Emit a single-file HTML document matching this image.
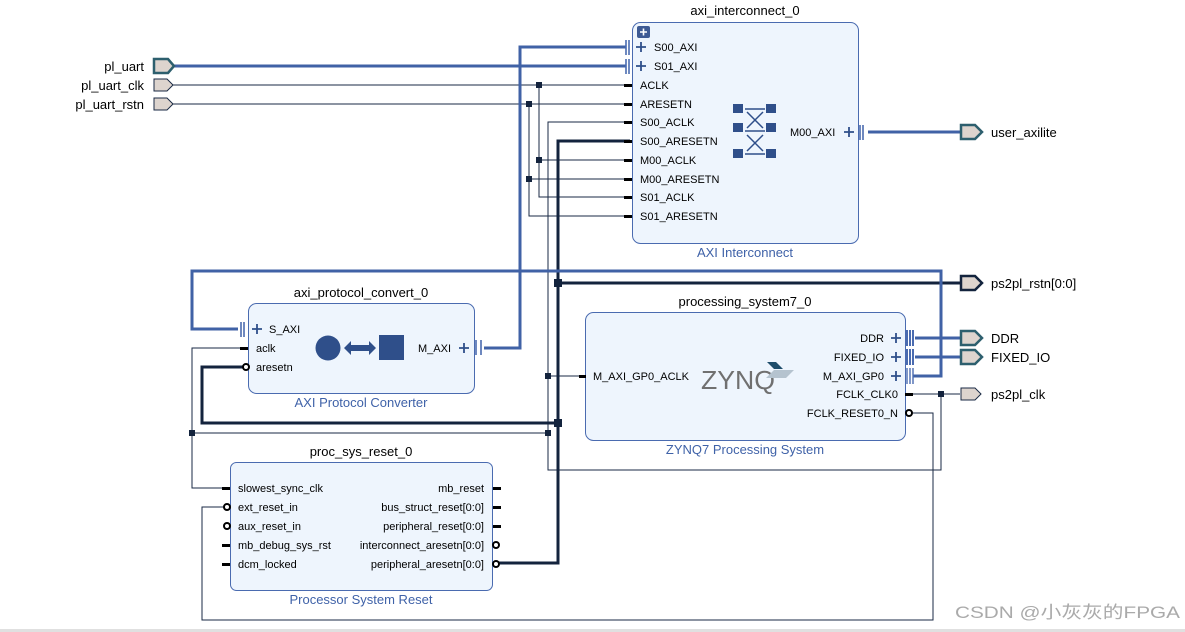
<!DOCTYPE html>
<html><head><meta charset="utf-8"><style>
html,body{margin:0;padding:0;background:#fff;}
svg{display:block;font-family:"Liberation Sans","Noto Sans CJK SC",sans-serif;}
.t{font-size:11px;fill:#000;}
.ti{font-size:13px;fill:#000;}
.lb{font-size:13px;fill:#3f62a8;}
.pl{font-size:13px;fill:#000;}
</style></head><body>
<svg width="1185" height="632" viewBox="0 0 1185 632" xmlns="http://www.w3.org/2000/svg">
<rect width="1185" height="632" fill="#fff"/>
<rect x="0" y="629" width="1185" height="3" fill="#e0e0e0"/>

<g fill="none" stroke="#1a2a44" stroke-width="1">
<polyline points="173,85 630,85"/>
<polyline points="173,104 630,104"/>
<polyline points="539,85 539,197 630,197"/>
<polyline points="539,160 630,160"/>
<polyline points="529,104 529,216 630,216"/>
<polyline points="529,179 630,179"/>
<polyline points="630,122 548,122 548,470 941,470 941,394"/>
<polyline points="548,376 585,376"/>
<polyline points="905,394 960,394"/>
<polyline points="192,433 548,433"/>
<polyline points="240,348 192,348 192,488 231,488"/>
<polyline points="910,413 933,413 933,620 202,620 202,507 226,507"/>
</g>
<g fill="none" stroke="#13233d" stroke-width="3">
<polyline points="630,141 558,141 558,563 497,563"/>
<polyline points="558,283 962,283"/>
<polyline points="558,423 202,423 202,367 244,367"/>
</g>
<g fill="none" stroke="#4062a6" stroke-width="3">
<polyline points="173,66 626,66"/>
<polyline points="626,47 520,47 520,348 484,348"/>
<polyline points="868,132 962,132"/>
<polyline points="913,376 941,376 941,271 192,271 192,329 238,329"/>
<polyline points="915,338 962,338"/>
<polyline points="915,357 962,357"/>
</g>
<g fill="#13233d">
<rect x="536" y="82" width="6" height="6"/><rect x="526" y="101" width="6" height="6"/>
<rect x="536" y="157" width="6" height="6"/><rect x="526" y="176" width="6" height="6"/>
<rect x="545" y="373" width="6" height="6"/><rect x="545" y="430" width="6" height="6"/>
<rect x="189" y="430" width="6" height="6"/><rect x="938" y="391" width="6" height="6"/>
<rect x="554" y="279" width="8" height="8"/><rect x="554" y="419" width="8" height="8"/>
</g>

<polygon points="154,59 168,59 174,66 168,73 154,73" fill="#ddd4ce" stroke="#2d5f6e" stroke-width="2.5"/>
<polygon points="154,79 167,79 173,85 167,91 154,91" fill="#ddd4ce" stroke="#1a2a44" stroke-width="1"/>
<polygon points="154,98 167,98 173,104 167,110 154,110" fill="#ddd4ce" stroke="#1a2a44" stroke-width="1"/>
<text class="pl" x="144" y="71" text-anchor="end">pl_uart</text>
<text class="pl" x="144" y="90" text-anchor="end">pl_uart_clk</text>
<text class="pl" x="144" y="109" text-anchor="end">pl_uart_rstn</text>
<polygon points="961,125 975,125 982,132 975,139 961,139" fill="#ddd4ce" stroke="#2d5f6e" stroke-width="2.5"/>
<polygon points="961,276 975,276 982,283 975,290 961,290" fill="#ddd4ce" stroke="#13233d" stroke-width="2.5"/>
<polygon points="961,331 975,331 982,338 975,345 961,345" fill="#ddd4ce" stroke="#2d5f6e" stroke-width="2.5"/>
<polygon points="961,350 975,350 982,357 975,364 961,364" fill="#ddd4ce" stroke="#2d5f6e" stroke-width="2.5"/>
<polygon points="961,388 975,388 981,394 975,400 961,400" fill="#ddd4ce" stroke="#1a2a44" stroke-width="1"/>
<text class="pl" x="991" y="137">user_axilite</text>
<text class="pl" x="991" y="288">ps2pl_rstn[0:0]</text>
<text class="pl" x="991" y="343">DDR</text>
<text class="pl" x="991" y="362">FIXED_IO</text>
<text class="pl" x="991" y="399">ps2pl_clk</text>

<text class="ti" x="745" y="15" text-anchor="middle">axi_interconnect_0</text>
<rect x="632.5" y="22.5" width="226" height="221" rx="8" fill="#eef5fd" stroke="#4a6bb0"/>
<rect x="637" y="26" width="13" height="12" rx="2" fill="#3d5a94"/>
<path d="M643.5,28.5v7M640,32h7" stroke="#fff" stroke-width="1.6"/>
<g fill="#4a6bb0"><rect x="625" y="40" width="2" height="15" opacity=".8"/><rect x="628" y="40" width="2" height="15" opacity=".8"/>
<rect x="625" y="59" width="2" height="15" opacity=".8"/><rect x="628" y="59" width="2" height="15" opacity=".8"/></g>
<path d="M636,47h10M641,42v10M636,66h10M641,61v10" stroke="#2f4f8a" stroke-width="1.8"/>
<text class="t" x="654" y="51">S00_AXI</text><text class="t" x="654" y="70">S01_AXI</text>
<g fill="#000"><rect x="624" y="84" width="8" height="3"/><rect x="624" y="103" width="8" height="3"/><rect x="624" y="121" width="8" height="3"/><rect x="624" y="140" width="8" height="3"/><rect x="624" y="159" width="8" height="3"/><rect x="624" y="178" width="8" height="3"/><rect x="624" y="196" width="8" height="3"/><rect x="624" y="215" width="8" height="3"/></g>
<text class="t" x="640" y="89">ACLK</text><text class="t" x="640" y="108">ARESETN</text>
<text class="t" x="640" y="126">S00_ACLK</text><text class="t" x="640" y="145">S00_ARESETN</text>
<text class="t" x="640" y="164">M00_ACLK</text><text class="t" x="640" y="183">M00_ARESETN</text>
<text class="t" x="640" y="201">S01_ACLK</text><text class="t" x="640" y="220">S01_ARESETN</text>
<g fill="#2f4f8a"><rect x="733" y="104" width="10" height="9"/><rect x="766" y="104" width="10" height="9"/>
<rect x="733" y="123" width="10" height="9"/><rect x="766" y="123" width="10" height="9"/>
<rect x="733" y="149" width="10" height="9"/><rect x="766" y="149" width="10" height="9"/></g>
<path d="M745,109h20M745,131h20M745,154h20M747,112l16,16M763,112l-16,16M747,135l16,16M763,135l-16,16" stroke="#2f4f8a" stroke-width="1.5" fill="none"/>
<text class="t" x="790" y="136">M00_AXI</text>
<path d="M844,132h10M849,127v10" stroke="#2f4f8a" stroke-width="1.8"/>
<g fill="#4a6bb0" opacity=".8"><rect x="859" y="125" width="2" height="15"/><rect x="862" y="125" width="2" height="15"/></g>
<text class="lb" x="745" y="257" text-anchor="middle">AXI Interconnect</text>

<text class="ti" x="361" y="297" text-anchor="middle">axi_protocol_convert_0</text>
<rect x="248.5" y="303.5" width="226" height="90" rx="8" fill="#eef5fd" stroke="#4a6bb0"/>
<g fill="#4a6bb0" opacity=".8"><rect x="240" y="322" width="2" height="15"/><rect x="243" y="322" width="2" height="15"/><rect x="475" y="340" width="2" height="15"/><rect x="480" y="340" width="2" height="15"/></g>
<path d="M252,329h10M257,324v10M459,348h10M464,343v10" stroke="#2f4f8a" stroke-width="1.8"/>
<text class="t" x="269" y="333">S_AXI</text>
<rect x="240" y="347" width="8" height="3" fill="#000"/>
<text class="t" x="256" y="352">aclk</text>
<circle cx="246" cy="367" r="3" fill="#fff" stroke="#000" stroke-width="2"/>
<text class="t" x="256" y="371">aresetn</text>
<circle cx="328" cy="348" r="12.5" fill="#2f4f8a"/>
<polygon points="344,348 351,341 351,345 369,345 369,341 376,348 369,355 369,351 351,351 351,355" fill="#2f4f8a"/>
<rect x="379" y="335" width="25" height="25" fill="#2f4f8a"/>
<text class="t" x="418" y="352">M_AXI</text>
<text class="lb" x="361" y="407" text-anchor="middle">AXI Protocol Converter</text>

<text class="ti" x="745" y="306" text-anchor="middle">processing_system7_0</text>
<rect x="585.5" y="312.5" width="320" height="128" rx="8" fill="#eef5fd" stroke="#4a6bb0"/>
<rect x="579" y="375" width="7" height="3" fill="#000"/>
<text class="t" x="593" y="380">M_AXI_GP0_ACLK</text>
<text x="701" y="389" font-size="26" fill="#707070" font-family="Liberation Sans,sans-serif" textLength="74" lengthAdjust="spacingAndGlyphs">ZYNQ</text>
<polygon points="767,362 776,362 783,369 774,369" fill="#1e4d6b"/>
<polygon points="774,370 794,370 786,378 766,378" fill="#b5c3cf"/>
<text class="t" x="884" y="342" text-anchor="end">DDR</text>
<text class="t" x="884" y="361" text-anchor="end">FIXED_IO</text>
<text class="t" x="884" y="380" text-anchor="end">M_AXI_GP0</text>
<text class="t" x="898" y="398" text-anchor="end">FCLK_CLK0</text>
<text class="t" x="898" y="417" text-anchor="end">FCLK_RESET0_N</text>
<path d="M891,338h10M896,333v10M891,357h10M896,352v10M891,376h10M896,371v10" stroke="#2f4f8a" stroke-width="1.8"/>
<g fill="#4a6bb0"><rect x="906" y="330" width="2" height="16"/><rect x="909" y="330" width="2" height="16"/><rect x="912" y="330" width="2" height="16"/>
<rect x="906" y="349" width="2" height="16"/><rect x="909" y="349" width="2" height="16"/><rect x="912" y="349" width="2" height="16"/>
<rect x="906" y="368" width="2" height="16" opacity=".7"/><rect x="909" y="368" width="2" height="16" opacity=".7"/><rect x="912" y="368" width="2" height="16" opacity=".7"/></g>
<rect x="905" y="393" width="8" height="3" fill="#000"/>
<circle cx="909" cy="413" r="3" fill="#fff" stroke="#000" stroke-width="2"/>
<text class="lb" x="745" y="454" text-anchor="middle">ZYNQ7 Processing System</text>

<text class="ti" x="361" y="456" text-anchor="middle">proc_sys_reset_0</text>
<rect x="230.5" y="462.5" width="262" height="128" rx="6" fill="#eef5fd" stroke="#4a6bb0"/>
<g fill="#000"><rect x="222" y="487" width="8" height="3"/><rect x="222" y="544" width="8" height="3"/><rect x="222" y="563" width="8" height="3"/>
<rect x="493" y="487" width="8" height="3"/><rect x="493" y="506" width="8" height="3"/><rect x="493" y="525" width="8" height="3"/></g>
<circle cx="227" cy="507" r="3" fill="#fff" stroke="#000" stroke-width="2"/>
<circle cx="227" cy="526" r="3" fill="#fff" stroke="#000" stroke-width="2"/>
<circle cx="496" cy="545" r="3" fill="#fff" stroke="#000" stroke-width="2"/>
<circle cx="496" cy="564" r="3" fill="#fff" stroke="#000" stroke-width="2"/>
<text class="t" x="238" y="492">slowest_sync_clk</text>
<text class="t" x="238" y="511">ext_reset_in</text>
<text class="t" x="238" y="530">aux_reset_in</text>
<text class="t" x="238" y="549">mb_debug_sys_rst</text>
<text class="t" x="238" y="568">dcm_locked</text>
<text class="t" x="484" y="492" text-anchor="end">mb_reset</text>
<text class="t" x="484" y="511" text-anchor="end">bus_struct_reset[0:0]</text>
<text class="t" x="484" y="530" text-anchor="end">peripheral_reset[0:0]</text>
<text class="t" x="484" y="549" text-anchor="end">interconnect_aresetn[0:0]</text>
<text class="t" x="484" y="568" text-anchor="end">peripheral_aresetn[0:0]</text>
<text class="lb" x="361" y="604" text-anchor="middle">Processor System Reset</text>

<text x="955" y="618" font-size="17" fill="#aaaaaa" textLength="225" lengthAdjust="spacingAndGlyphs">CSDN @小灰灰的FPGA</text>
</svg>
</body></html>
